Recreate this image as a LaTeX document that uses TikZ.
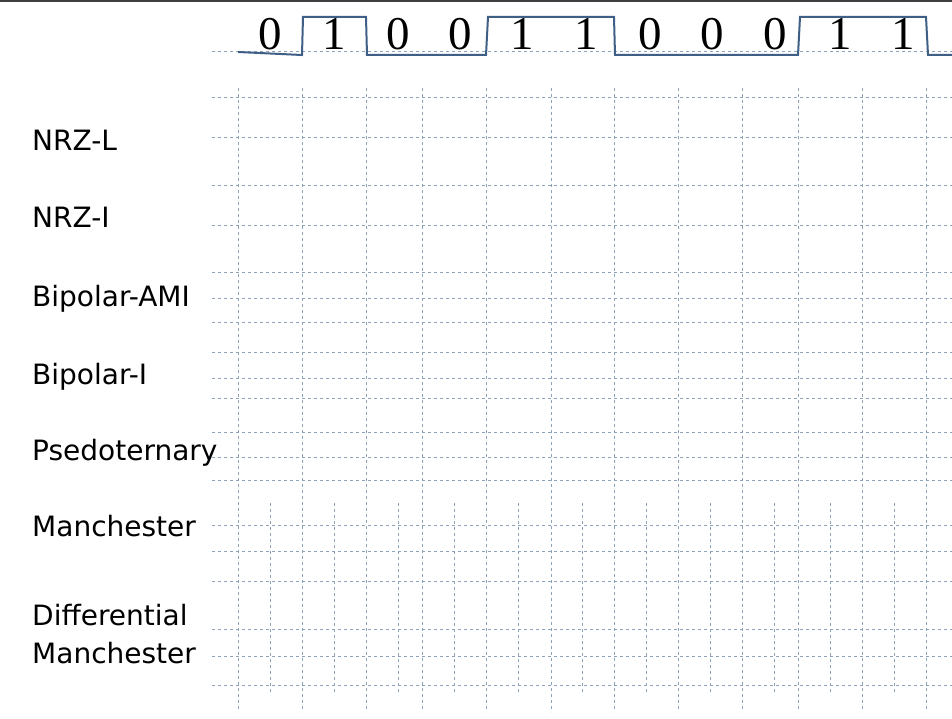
\documentclass[tikz,border=0pt]{standalone}
\usepackage{fontspec}
\setmainfont{DejaVu Sans}
\newfontfamily\digitfont{Liberation Serif}
\begin{document}
\begin{tikzpicture}[x=1pt,y=-1pt,
  grid/.style={draw=gridc,line width=1pt,dash pattern=on 3pt off 3pt},
  lbl/.style={anchor=base west,inner sep=0pt,font=\fontsize{28}{34}\selectfont},
  bit/.style={anchor=base,inner sep=0pt,font=\digitfont\fontsize{47}{50}\selectfont},
  wave/.style={draw=wavec,line width=2pt}]
\definecolor{gridc}{HTML}{8FA3B8}
\definecolor{wavec}{HTML}{3F5F86}
\useasboundingbox (0,0) rectangle (952,719);
\fill[white] (0,0) rectangle (952,719);
\draw[line width=3pt,draw=black!75] (0,1) -- (952,1);
% top baseline
\draw[grid] (212,52) -- (952,52);
% horizontal grid
\foreach \y in {98,138,186,226,272,298,322,352,378,398,432,457,480,525,551,581,629,656,685}
  \draw[grid] (212,\y) -- (952,\y);
% vertical grid
\foreach \x in {238,302,366,422,486,551,614,678,742,798,862,926}
  \draw[grid] (\x,88) -- (\x,712);
\foreach \x in {270,334,398,454,518,582,646,710,774,830,894}
  \draw[grid] (\x,503) -- (\x,695);
% waveform
\draw[wave] (238,52) -- (302,55) -- (303,17) -- (366,17) -- (367,55) -- (486,55) -- (488,17)
  -- (614,17) -- (615,55) -- (798,55) -- (800,17) -- (926,17) -- (928,55) -- (952,55);
% bits
\foreach \x/\b [count=\i] in {270/0,334/1,398/0,460/0,522/1,586/1,650/0,712/0,775/0,840/1,903/1}
  \node[bit] (b\i) at (\x,50) {\b};
% labels
\node[lbl] (l1) at (32,151) {NRZ-L};
\node[lbl] (l2) at (32,228) {NRZ-I};
\node[lbl] (l3) at (32,306) {Bipolar-AMI};
\node[lbl] (l4) at (32,384) {Bipolar-I};
\node[lbl] (l5) at (32,460) {Psedoternary};
\node[lbl] (l6) at (32,536) {Manchester};
\node[lbl] (l7) at (32,625) {Differential};
\node[lbl] (l8) at (32,663) {Manchester};
\end{tikzpicture}
\end{document}
